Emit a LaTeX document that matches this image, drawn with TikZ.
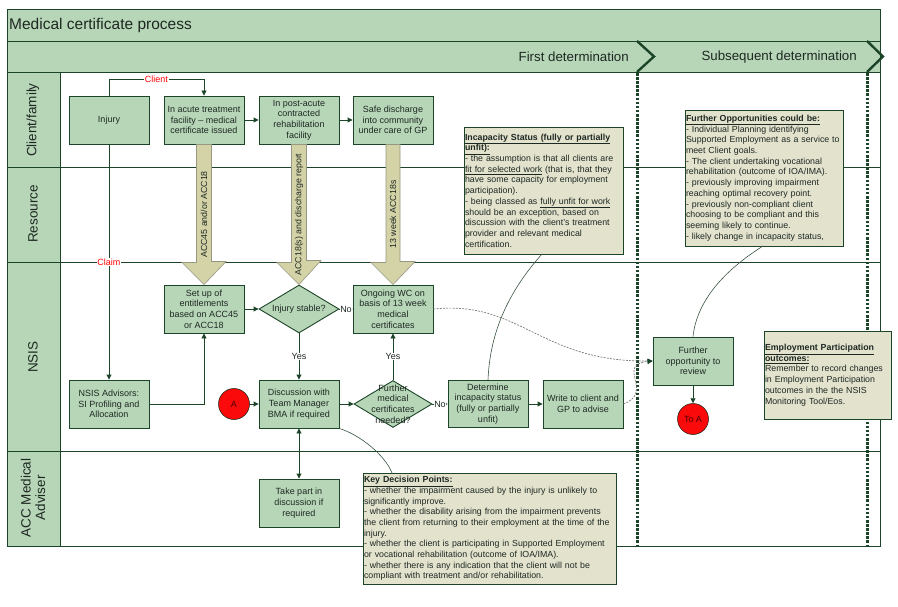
\documentclass[tikz,border=0pt]{standalone}
\usepackage{fontspec}
\setmainfont{Liberation Sans}
\usetikzlibrary{arrows.meta,shapes.geometric,calc}
\definecolor{gfill}{RGB}{183,214,184}
\definecolor{gline}{RGB}{28,68,40}
\definecolor{nfill}{RGB}{226,226,205}
\definecolor{afill}{RGB}{212,211,168}
\definecolor{aline}{RGB}{150,150,130}
\definecolor{txt}{RGB}{30,40,34}
\definecolor{redfill}{RGB}{250,10,10}
\definecolor{dashgray}{RGB}{120,125,120}
\begin{document}
\begin{tikzpicture}[x=1pt,y=-1pt,
  box/.style={draw=gline, fill=gfill, line width=0.9pt, minimum width=80, minimum height=48, inner sep=1, align=center, text=txt, font=\fontsize{9}{10.7}\selectfont},
  dia/.style={draw=gline, fill=gfill, line width=0.9pt, diamond, minimum width=80, minimum height=48, inner sep=0},
  diatext/.style={align=center, text=txt, inner sep=0, font=\fontsize{9}{10.7}\selectfont},
  note/.style={draw=gline, fill=nfill, line width=0.9pt, inner xsep=1, inner ysep=0, align=left, text=txt, font=\fontsize{8.8}{10.7}\selectfont},
  flow/.style={draw=gline, line width=0.9pt, -{Triangle[length=5pt,width=5pt]}},
  lab/.style={fill=white, inner sep=0.6, text=txt, font=\fontsize{9}{10}\selectfont},
  redlab/.style={lab, text=red},
  blk/.style={fill=afill, draw=aline, line width=0.6pt},
  blktext/.style={rotate=90, text=txt, inner sep=0, font=\fontsize{8.8}{10}\selectfont},
  dashc/.style={draw=dashgray, dash pattern=on 2pt off 1.2pt, line width=0.7pt, -{Triangle[length=5pt,width=5pt,color=gline,fill=gline]}},
  call/.style={draw=gline!70!gray, line width=0.6pt},
  circ/.style={circle, draw=gline!50!black, fill=redfill, minimum size=31, inner sep=0, line width=0.5pt, text=black!70!red, font=\fontsize{9}{10}\selectfont},
  lanelab/.style={rotate=90, text=txt, align=center, inner sep=0, font=\fontsize{13.5}{14.5}\selectfont},
  dots/.style={draw=gline, line width=3pt, dash pattern=on 2.6pt off 1.5pt},
  chev/.style={draw=gline, line width=2.4pt, line join=miter}
]
\useasboundingbox (0,0) rectangle (898,607);

% header bands
\fill[gfill] (7,9) rectangle (880,72);
\draw[gline, line width=0.9pt] (7,9) rectangle (880,41);
\draw[gline, line width=0.9pt] (7,41) rectangle (880,72);
\node[anchor=west, text=txt, inner sep=0, font=\fontsize{15.5}{17}\selectfont] (title) at (9,25) {Medical certificate process};
\node[anchor=east, text=txt, inner sep=0, font=\fontsize{13.3}{15}\selectfont] (first) at (629,57) {First determination};
\node[anchor=east, text=txt, inner sep=0, font=\fontsize{13.3}{15}\selectfont] (subs) at (857,57) {Subsequent determination};

% lanes
\fill[gfill] (7,72) rectangle (60,546);
\draw[gline, line width=0.9pt] (7,72) rectangle (880,546);
\draw[gline, line width=0.9pt] (60,72) -- (60,546);
\draw[gline, line width=0.9pt] (7,167) -- (880,167);
\draw[gline, line width=0.9pt] (7,262) -- (880,262);
\draw[gline, line width=0.9pt] (7,451) -- (880,451);
\node[lanelab] (l1) at (33,120) {Client/family};
\node[lanelab] (l2) at (33,214) {Resource};
\node[lanelab] (l3) at (33,357) {NSIS};
\node[lanelab] (l4) at (33,498) {ACC Medical\\Adviser};

% phase separators
\draw[dots] (637,73) -- (637,548);
\draw[dots] (867,73) -- (867,548);
\draw[chev] (637,41) -- (654,56.5) -- (637,72);
\draw[chev] (867,41) -- (883,56.5) -- (867,72);

% client lane
\node[box] (injury) at (109,120) {Injury};
\node[box] (acute) at (204,120) {In acute treatment\\facility -- medical\\certificate issued};
\node[box] (postacute) at (299,120) {In post-acute\\contracted\\rehabilitation\\facility};
\node[box] (safe) at (393,120) {Safe discharge\\into community\\under care of GP};

% NSIS lane
\node[box] (setup) at (204,309) {Set up of\\entitlements\\based on ACC45\\or ACC18};
\node[dia] (stable) at (299,309) {};
\node[diatext] (stabletxt) at (299,309) {Injury stable?};
\node[box] (ongoing) at (393,309) {Ongoing WC on\\basis of 13 week\\medical\\certificates};
\node[box] (advisors) at (109,404) {NSIS Advisors:\\SI Profiling and\\Allocation};
\node[circ] (A) at (234,404) {A};
\node[box] (discussion) at (299,404) {Discussion with\\Team Manager\\BMA if required};
\node[dia, minimum width=78, minimum height=47] (further) at (393,404) {};
\node[diatext] (furthertxt) at (393,404) {Further\\medical\\certificates\\needed?};
\node[box, minimum height=47] (determine) at (488,404) {Determine\\incapacity status\\(fully or partially\\unfit)};
\node[box] (write) at (583,404) {Write to client and\\GP to advise};
\node[box] (furtheropp) at (693,361) {Further\\opportunity to\\review};
\node[circ] (toA) at (693,419) {To A};

% ACC lane
\node[box] (takepart) at (299,503) {Take part in\\discussion if\\required};

% block arrows
\draw[blk] ($(acute.south)+(-7.5,0)$) -- ++(0,118) -- ++(-14.5,0) -- (setup.north) -- ++(22,-23) -- ++(-14.5,0) -- ($(acute.south)+(7.5,0)$) -- cycle;
\draw[blk] ($(postacute.south)+(-7.5,0)$) -- ++(0,118) -- ++(-14.5,0) -- (stable.north) -- ++(22,-24) -- ++(-14.5,0) -- ($(postacute.south)+(7.5,0)$) -- cycle;
\draw[blk] ($(safe.south)+(-7,0)$) -- ++(0,118) -- ++(-15,0) -- (ongoing.north) -- ++(22,-23) -- ++(-15,0) -- ($(safe.south)+(7,0)$) -- cycle;
\node[blktext] (t1) at ($(acute.south)+(0,70)$) {ACC45 and/or ACC18};
\node[blktext] (t2) at ($(postacute.south)+(0,70)$) {ACC18(s) and discharge report};
\node[blktext] (t3) at ($(safe.south)+(0,70)$) {13 week ACC18s};

% flows
\draw[flow] (injury.north) -- ++(0,-16) -| node[redlab, pos=0.25] {Client} (acute.north);
\draw[flow] (acute.east) -- (postacute.west);
\draw[flow] (postacute.east) -- (safe.west);
\draw[flow] (injury.south) -- node[redlab, pos=0.5] {Claim} (advisors.north);
\draw[flow] (advisors.east) -| (setup.south);
\draw[flow] (setup.east) -- (stable.west);
\draw[flow] (stable.east) -- node[lab] {No} (ongoing.west);
\draw[flow] (stable.south) -- node[lab] {Yes} (discussion.north);
\draw[flow] (A.east) -- (discussion.west);
\draw[flow] (discussion.east) -- (further.west);
\draw[flow] (further.north) -- node[lab] {Yes} (ongoing.south);
\draw[flow] (further.east) -- node[lab] {No} (determine.west);
\draw[flow] (determine.east) -- (write.west);
\draw[flow, {Triangle[length=5pt,width=5pt]}-{Triangle[length=5pt,width=5pt]}] (discussion.south) -- (takepart.north);
\draw[flow] (furtheropp.south) -- (toA.north);
\draw[dashc] (ongoing.east) .. controls (520,300) and (540,362) .. (furtheropp.west);
\draw[dashc] (write.east) .. controls (655,392) and (615,365) .. (furtheropp.west);

% notes
\node[note, text width=157, minimum height=127] (incap) at (543.5,190.5) {\underline{\textbf{Incapacity Status (fully or partially}}\\\underline{\textbf{unfit):}}\\- the assumption is that all clients are\\\underline{fit for selected work} (that is, that they\\have some capacity for employment\\participation).\\- being classed as \underline{fully unfit for work}\\should be an exception, based on\\discussion with the client's treatment\\provider and relevant medical\\certification.};
\node[note, text width=156, minimum height=136] (opps) at (764,178) {\underline{\textbf{Further Opportunities could be:}}\\- Individual Planning identifying\\Supported Employment as a service to\\meet Client goals.\\- The client undertaking vocational\\rehabilitation (outcome of IOA/IMA).\\- previously improving impairment\\reaching optimal recovery point.\\- previously non-compliant client\\choosing to be compliant and this\\seeming likely to continue.\\- likely change in incapacity status,};
\node[note, text width=125, minimum height=88] (emp) at (827.5,375) {\underline{\textbf{Employment Participation}}\\\underline{\textbf{outcomes:}}\\Remember to record changes\\in Employment Participation\\outcomes in the the NSIS\\Monitoring Tool/Eos.};
\node[note, text width=251, minimum height=111] (keydp) at (489.5,528.5) {\underline{\textbf{Key Decision Points:}}\\- whether the impairment caused by the injury is unlikely to\\significantly improve.\\- whether the disability arising from the impairment prevents\\the client from returning to their employment at the time of the\\injury.\\- whether the client is participating in Supported Employment\\or vocational rehabilitation (outcome of IOA/IMA).\\- whether there is any indication that the client will not be\\compliant with treatment and/or rehabilitation.};

% callout lines
\draw[call] (542,254) .. controls (510,290) and (490,330) .. (determine.north);
\draw[call] (763,246) .. controls (725,270) and (697,300) .. (furtheropp.north);
\draw[call] (discussion.south east) .. controls (360,435) and (385,455) .. (392,473);
\end{tikzpicture}
\end{document}
